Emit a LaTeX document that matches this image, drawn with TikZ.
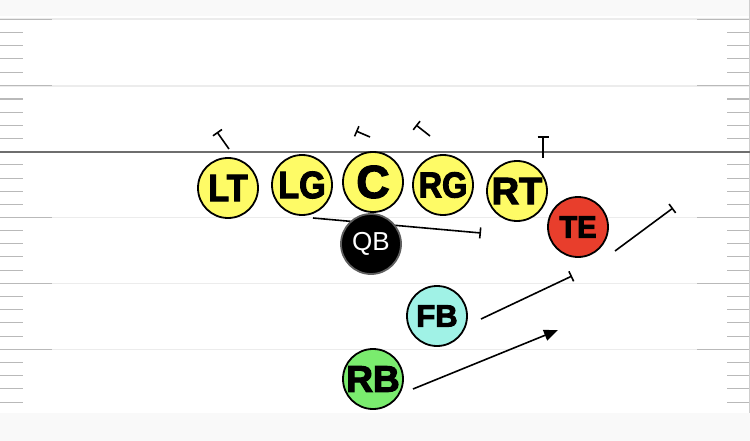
\documentclass[tikz,border=0pt]{standalone}
\usepackage{fontspec}
\usepackage{graphicx}
\setmainfont{Liberation Sans}
\newfontfamily\heavy{Liberation Sans Bold}[FakeBold=3]
\usetikzlibrary{arrows.meta}
\definecolor{olyellow}{RGB}{254,251,102}
\definecolor{tered}{RGB}{232,62,44}
\definecolor{fbcyan}{RGB}{160,242,230}
\definecolor{rbgreen}{RGB}{122,236,110}
\definecolor{topgray}{RGB}{249,249,249}
\definecolor{faintline}{RGB}{236,236,236}
\definecolor{hashgray}{RGB}{185,185,185}
\definecolor{losgray}{RGB}{110,110,110}
\definecolor{qbedge}{RGB}{95,95,95}
\newcommand{\narrow}[1]{\scalebox{0.9}[1]{#1}}
\tikzset{
  player/.style={circle, draw=black, line width=1.8pt, minimum size=60pt, inner sep=0pt, font=\heavy},
  lineman/.style={player, fill=olyellow},
  block/.style={line width=1.6pt, -{Bar[width=11pt,line width=1.6pt]}},
  runpath/.style={line width=1.6pt, -{Triangle[length=14pt,width=11pt]}},
  hash/.style={draw=hashgray, line width=1.1pt},
  major/.style={draw=faintline, line width=1.6pt},
  majoredge/.style={draw=hashgray, line width=1.4pt}
}
\begin{document}
\begin{tikzpicture}[x=1pt,y=-1pt]
\useasboundingbox (0,0) rectangle (750,441);
% background
\fill[white] (0,0) rectangle (750,441);
\fill[topgray] (0,0) rectangle (750,16);
\fill[topgray] (0,413) rectangle (750,441);
% major yard lines
\foreach \y in {19.3,85.8,217.3,283.3,349.3}{
  \draw[major] (0,\y) -- (750,\y);
  \draw[majoredge] (0,\y) -- (52,\y);
  \draw[majoredge] (697,\y) -- (750,\y);
}
% hash marks
\foreach \y in {19.3,85.8,151.7,217.3,283.3,349.3}{
  \foreach \j in {1,2,3,4}{
    \draw[hash] (0,\y+13.2*\j) -- (23,\y+13.2*\j);
    \draw[hash] (727,\y+13.2*\j) -- (750,\y+13.2*\j);
  }
}
% right sideline
\draw[draw=hashgray!70, line width=1pt] (749.3,0) -- (749.3,413);
% line of scrimmage
\draw[draw=losgray, line width=2pt] (0,151.7) -- (750,151.7);

% LG pull (behind QB)
\coordinate (lgs) at (313,218);
\coordinate (lge) at (481,233);
\draw[block] (lgs) -- (lge);

% players
\node[lineman, font=\heavy\fontsize{38}{38}\selectfont] (LT) at (228,188) {\narrow{LT}};
\node[lineman, font=\heavy\fontsize{38}{38}\selectfont] (LG) at (302,185) {\narrow{LG}};
\node[lineman, font=\heavy\fontsize{46}{46}\selectfont] (C) at (373,182) {C};
\node[lineman, font=\heavy\fontsize{36}{36}\selectfont] (RG) at (443,185) {\narrow{RG}};
\node[lineman, font=\heavy\fontsize{38}{38}\selectfont] (RT) at (517,191) {RT};
\node[player, fill=black, draw=qbedge, text=white, font=\fontsize{26}{26}\selectfont] (QB) at (371,244) {QB};
\node[player, fill=tered, font=\heavy\fontsize{31}{31}\selectfont] (TE) at (578,227) {\scalebox{0.94}[1]{TE}};
\node[player, fill=fbcyan, font=\heavy\fontsize{31}{31}\selectfont] (FB) at (437,316) {FB};
\node[player, fill=rbgreen, font=\heavy\fontsize{37}{37}\selectfont] (RB) at (373,379) {RB};

% blocks
\coordinate (lts) at (229,149);
\coordinate (lte) at (217,132);
\draw[block] (lts) -- (lte);
\coordinate (cs) at (370,137);
\coordinate (ce) at (356,131);
\draw[block] (cs) -- (ce);
\coordinate (rgs) at (430,136);
\coordinate (rge) at (416,125);
\draw[block] (rgs) -- (rge);
\coordinate (rts) at (543,158);
\coordinate (rte) at (543,136);
\draw[block] (rts) -- (rte);
\coordinate (tes) at (615,251);
\coordinate (tee) at (673,208);
\draw[block] (tes) -- (tee);
\coordinate (fbs) at (481,319);
\coordinate (fbe) at (572,276);
\draw[block] (fbs) -- (fbe);
\coordinate (rbs) at (413,389);
\coordinate (rbe) at (558,330);
\draw[runpath] (rbs) -- (rbe);
\end{tikzpicture}
\end{document}
